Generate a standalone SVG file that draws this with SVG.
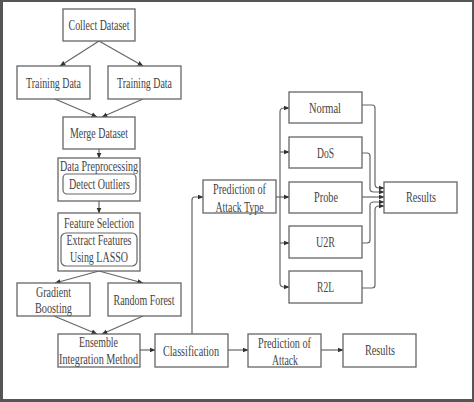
<svg xmlns="http://www.w3.org/2000/svg" width="474" height="402" viewBox="0 0 474 402">
<style>
.b{fill:#fff;stroke:#666;stroke-width:1.3}
.r{fill:#fff;stroke:#666;stroke-width:1.2}
.t{font-family:"Liberation Serif","Times New Roman",serif;font-size:14px;fill:#444;text-anchor:middle}
.c{fill:none;stroke:#666;stroke-width:1.2}
</style>
<defs>
<marker id="ah" markerUnits="userSpaceOnUse" markerWidth="6" markerHeight="6" refX="5.5" refY="3" orient="auto">
<path d="M0,0.5 L6,3 L0,5.5 z" fill="#333"/>
</marker>
</defs>
<rect x="0" y="0" width="474" height="402" fill="#555"/>
<rect x="3" y="2" width="469" height="397" fill="#fff"/>

<g id="connectors" class="c">
<path d="M99,41 L60,66" marker-end="url(#ah)"/>
<path d="M99,41 L143,66" marker-end="url(#ah)"/>
<path d="M55,99 L97,117" marker-end="url(#ah)"/>
<path d="M143,99 L102,117" marker-end="url(#ah)"/>
<path d="M99,149 V158" marker-end="url(#ah)"/>
<path d="M99,201 V213" marker-end="url(#ah)"/>
<path d="M99,271 L55,283" marker-end="url(#ah)"/>
<path d="M99,271 L143,283" marker-end="url(#ah)"/>
<path d="M54,316 L97,334" marker-end="url(#ah)"/>
<path d="M143,316 L102,334" marker-end="url(#ah)"/>
<path d="M140,350 H155" marker-end="url(#ah)"/>
<path d="M192,334 V200 Q192,197 195,197 H203" marker-end="url(#ah)"/>
<path d="M228,350 H248" marker-end="url(#ah)"/>
<path d="M321,350 H343" marker-end="url(#ah)"/>
<path d="M276,197 H289" marker-end="url(#ah)"/>
<path d="M280,197 V112 Q280,108 284,108 H289" marker-end="url(#ah)"/>
<path d="M280,152 H289" marker-end="url(#ah)"/>
<path d="M280,197 V283 Q280,287 284,287 H289" marker-end="url(#ah)"/>
<path d="M280,243 H289" marker-end="url(#ah)"/>
<path d="M362,105 H372 Q375,105 375,108 V184 Q375,188 379,188 H384" marker-end="url(#ah)"/>
<path d="M362,153 H367 Q370,153 370,156 V189 Q370,192 374,192 H384" marker-end="url(#ah)"/>
<path d="M362,197 H384" marker-end="url(#ah)"/>
<path d="M362,243 H367 Q370,243 370,240 V205 Q370,202 374,202 H384" marker-end="url(#ah)"/>
<path d="M362,288 H372 Q375,288 375,285 V210 Q375,206 379,206 H384" marker-end="url(#ah)"/>
</g>

<g id="collect"><rect class="b" x="63" y="9" width="72" height="32"/><text class="t" x="99" y="30" textLength="61" lengthAdjust="spacingAndGlyphs">Collect Dataset</text></g>
<g id="train1"><rect class="b" x="17" y="66" width="73" height="33"/><text class="t" x="53.5" y="87.5" textLength="55" lengthAdjust="spacingAndGlyphs">Training Data</text></g>
<g id="train2"><rect class="b" x="108" y="66" width="73" height="33"/><text class="t" x="144.5" y="87.5" textLength="55" lengthAdjust="spacingAndGlyphs">Training Data</text></g>
<g id="merge"><rect class="b" x="63" y="117" width="72" height="32"/><text class="t" x="99" y="137.5" textLength="58" lengthAdjust="spacingAndGlyphs">Merge Dataset</text></g>
<g id="preproc"><rect class="b" x="58" y="158" width="82" height="43"/><text class="t" x="99" y="170.5" textLength="78" lengthAdjust="spacingAndGlyphs">Data Preprocessing</text>
<rect class="r" x="63" y="174" width="73" height="20" rx="4"/><text class="t" x="99.5" y="189" textLength="61" lengthAdjust="spacingAndGlyphs">Detect Outliers</text></g>
<g id="featsel"><rect class="b" x="58" y="213" width="82" height="58"/><text class="t" x="99" y="227.5" textLength="70" lengthAdjust="spacingAndGlyphs">Feature Selection</text>
<rect class="r" x="61" y="233" width="76" height="33" rx="5"/><text class="t" x="99" y="245" textLength="65" lengthAdjust="spacingAndGlyphs">Extract Features</text><text class="t" x="99" y="262" textLength="58" lengthAdjust="spacingAndGlyphs">Using LASSO</text></g>
<g id="gb"><rect class="b" x="17" y="283" width="73" height="33"/><text class="t" x="53.5" y="297" textLength="35" lengthAdjust="spacingAndGlyphs">Gradient</text><text class="t" x="53.5" y="313" textLength="37" lengthAdjust="spacingAndGlyphs">Boosting</text></g>
<g id="rf"><rect class="b" x="108" y="283" width="73" height="33"/><text class="t" x="144" y="305" textLength="61" lengthAdjust="spacingAndGlyphs">Random Forest</text></g>
<g id="ensemble"><rect class="b" x="58" y="334" width="82" height="33"/><text class="t" x="98.5" y="347" textLength="39" lengthAdjust="spacingAndGlyphs">Ensemble</text><text class="t" x="98.5" y="364" textLength="79" lengthAdjust="spacingAndGlyphs">Integration Method</text></g>
<g id="classification"><rect class="b" x="155" y="334" width="73" height="33"/><text class="t" x="191" y="356" textLength="56" lengthAdjust="spacingAndGlyphs">Classification</text></g>
<g id="predattack"><rect class="b" x="248" y="334" width="73" height="33"/><text class="t" x="284.5" y="348" textLength="53" lengthAdjust="spacingAndGlyphs">Prediction of</text><text class="t" x="285" y="365" textLength="26" lengthAdjust="spacingAndGlyphs">Attack</text></g>
<g id="results2"><rect class="b" x="343" y="334" width="73" height="33"/><text class="t" x="380" y="355" textLength="30" lengthAdjust="spacingAndGlyphs">Results</text></g>
<g id="predtype"><rect class="b" x="203" y="180" width="73" height="33"/><text class="t" x="239.5" y="194" textLength="53" lengthAdjust="spacingAndGlyphs">Prediction of</text><text class="t" x="239.5" y="211.5" textLength="48" lengthAdjust="spacingAndGlyphs">Attack Type</text></g>
<g id="normal"><rect class="b" x="289" y="92" width="73" height="31"/><text class="t" x="325" y="113" textLength="32" lengthAdjust="spacingAndGlyphs">Normal</text></g>
<g id="dos"><rect class="b" x="289" y="137" width="73" height="31"/><text class="t" x="325.5" y="158" textLength="17" lengthAdjust="spacingAndGlyphs">DoS</text></g>
<g id="probe"><rect class="b" x="289" y="182" width="73" height="31"/><text class="t" x="326" y="202" textLength="24" lengthAdjust="spacingAndGlyphs">Probe</text></g>
<g id="u2r"><rect class="b" x="289" y="226" width="73" height="32"/><text class="t" x="325.5" y="247" textLength="19" lengthAdjust="spacingAndGlyphs">U2R</text></g>
<g id="r2l"><rect class="b" x="289" y="271" width="73" height="32"/><text class="t" x="325.5" y="292" textLength="17" lengthAdjust="spacingAndGlyphs">R2L</text></g>
<g id="results1"><rect class="b" x="384" y="182" width="73" height="31"/><text class="t" x="421" y="202" textLength="30" lengthAdjust="spacingAndGlyphs">Results</text></g>
</svg>
